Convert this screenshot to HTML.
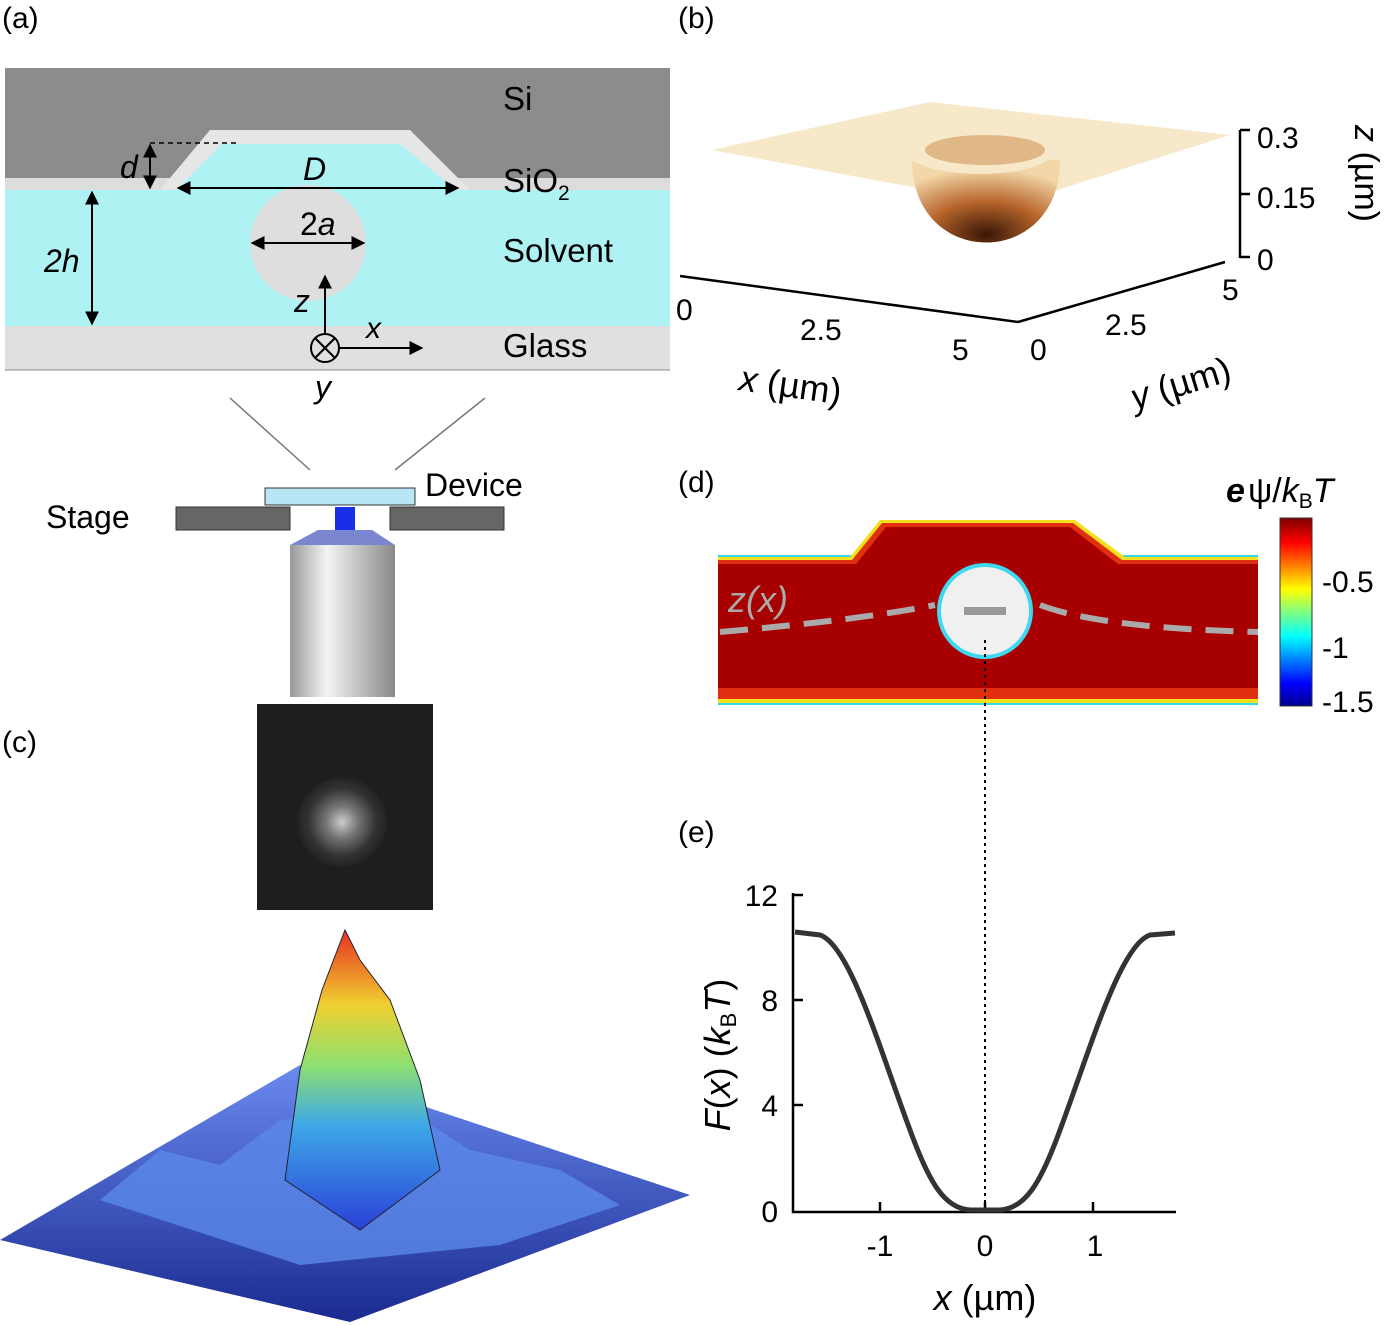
<!DOCTYPE html>
<html><head><meta charset="utf-8"><style>
body{margin:0;background:#fff}
svg{display:block;font-family:"Liberation Sans",Arial,sans-serif}
</style></head><body>
<svg width="1400" height="1326" viewBox="0 0 1400 1326" xmlns="http://www.w3.org/2000/svg">
<defs>
<marker id="ar" viewBox="0 0 10 10" refX="9" refY="5" markerWidth="7" markerHeight="7" orient="auto-start-reverse"><path d="M0,0 L10,5 L0,10 Z" fill="#000"/></marker>
<linearGradient id="cyl" x1="0" x2="1"><stop offset="0" stop-color="#999"/><stop offset="0.35" stop-color="#f4f4f4"/><stop offset="1" stop-color="#888"/></linearGradient>
<linearGradient id="jet" x1="0" y1="1" x2="0" y2="0"><stop offset="0" stop-color="#00008f"/><stop offset="0.12" stop-color="#0000ff"/><stop offset="0.37" stop-color="#00ffff"/><stop offset="0.5" stop-color="#80ff80"/><stop offset="0.62" stop-color="#ffff00"/><stop offset="0.87" stop-color="#ff0000"/><stop offset="1" stop-color="#800000"/></linearGradient>
<radialGradient id="bowl" cx="0.5" cy="0.9" r="0.8"><stop offset="0" stop-color="#3a1606"/><stop offset="0.5" stop-color="#b8662c"/><stop offset="1" stop-color="#f3d7a8"/></radialGradient>
<radialGradient id="spot" cx="0.5" cy="0.5" r="0.5"><stop offset="0" stop-color="#ccc"/><stop offset="0.35" stop-color="#777"/><stop offset="0.75" stop-color="#333"/><stop offset="1" stop-color="#222"/></radialGradient>
<linearGradient id="peak" x1="0" y1="1" x2="0" y2="0"><stop offset="0" stop-color="#2a40d8"/><stop offset="0.35" stop-color="#3ea8e8"/><stop offset="0.55" stop-color="#8ee070"/><stop offset="0.75" stop-color="#f0d030"/><stop offset="1" stop-color="#e83020"/></linearGradient>
<linearGradient id="base" x1="0" y1="0" x2="0" y2="1"><stop offset="0" stop-color="#6a8af0"/><stop offset="1" stop-color="#1a2a90"/></linearGradient>
</defs>

<!-- (a) -->
<text x="2" y="28" font-size="30">(a)</text>
<rect x="5" y="68" width="665" height="302" fill="#e0e0e0"/>
<rect x="5" y="68" width="665" height="110" fill="#8c8c8c"/>
<rect x="5" y="178" width="665" height="12" fill="#dcdcdc"/>
<rect x="5" y="190" width="665" height="136" fill="#aef2f4"/>
<path d="M160,190 L210,130 L410,130 L470,190 Z" fill="#e6e6e6"/>
<path d="M176,190 L222,144 L400,144 L456,190 Z" fill="#aef2f4"/>
<line x1="5" y1="370" x2="670" y2="370" stroke="#888"/>
<circle cx="308" cy="243" r="58" fill="#dedede"/>
<text x="503" y="110" font-size="33">Si</text>
<text x="503" y="192" font-size="33">SiO<tspan font-size="21" dy="8">2</tspan></text>
<text x="503" y="262" font-size="33">Solvent</text>
<text x="503" y="357" font-size="33">Glass</text>
<g stroke="#000" stroke-width="2" fill="none">
<line x1="178" y1="188" x2="458" y2="188" marker-start="url(#ar)" marker-end="url(#ar)"/>
<line x1="150" y1="145" x2="150" y2="188" marker-start="url(#ar)" marker-end="url(#ar)"/>
<line x1="150" y1="143" x2="240" y2="143" stroke-dasharray="5,4" stroke-width="1.5"/>
<line x1="92" y1="192" x2="92" y2="324" marker-start="url(#ar)" marker-end="url(#ar)"/>
<line x1="252" y1="243" x2="364" y2="243" marker-start="url(#ar)" marker-end="url(#ar)"/>
<line x1="325" y1="334" x2="325" y2="276" marker-end="url(#ar)"/>
<line x1="339" y1="348" x2="422" y2="348" marker-end="url(#ar)"/>
<circle cx="325" cy="348" r="14"/>
<line x1="315" y1="338" x2="335" y2="358"/><line x1="335" y1="338" x2="315" y2="358"/>
<line x1="230" y1="398" x2="310" y2="470" stroke="#777" stroke-width="1.5"/>
<line x1="485" y1="398" x2="395" y2="470" stroke="#777" stroke-width="1.5"/>
</g>
<text x="120" y="178" font-size="32" font-style="italic">d</text>
<text x="303" y="180" font-size="32" font-style="italic">D</text>
<text x="44" y="272" font-size="32" font-style="italic">2h</text>
<text x="300" y="235" font-size="32">2<tspan font-style="italic">a</tspan></text>
<text x="294" y="312" font-size="32" font-style="italic">z</text>
<text x="366" y="338" font-size="30" font-style="italic">x</text>
<text x="315" y="398" font-size="32" font-style="italic">y</text>

<!-- microscope -->
<rect x="265" y="488" width="150" height="17" fill="#b8e6f4" stroke="#333"/>
<rect x="176" y="507" width="114" height="23" fill="#666" stroke="#333"/>
<rect x="390" y="507" width="114" height="23" fill="#666" stroke="#333"/>
<rect x="335" y="507" width="20" height="26" fill="#1a2ee8"/>
<rect x="290" y="545" width="105" height="152" fill="url(#cyl)"/>
<path d="M290,545 L318,530 L372,530 L395,545 Z" fill="#7a86d0"/>
<text x="425" y="496" font-size="32">Device</text>
<text x="46" y="528" font-size="32">Stage</text>

<!-- (c) -->
<text x="2" y="752" font-size="30">(c)</text>
<rect x="257" y="704" width="176" height="206" fill="#1e1e1e"/>
<circle cx="342" cy="822" r="45" fill="url(#spot)"/>
<path d="M0,1240 L300,1065 L690,1195 L350,1322 Z" fill="url(#base)"/>
<path d="M100,1200 L160,1150 L220,1165 L280,1120 L400,1105 L470,1150 L560,1170 L620,1205 L500,1245 L300,1265 Z" fill="#5a88e8" opacity="0.8"/>
<path d="M285,1180 L300,1070 L322,990 L345,930 L360,960 L390,1000 L420,1080 L440,1170 L360,1230 Z" fill="url(#peak)" stroke="#223" stroke-width="1"/>

<!-- (b) -->
<text x="678" y="28" font-size="30">(b)</text>
<path d="M712,150 L930,102 L1230,135 L1010,205 Z" fill="#f6e8c8"/>
<path d="M912,160 C912,270 1060,270 1060,160 Z" fill="url(#bowl)"/>
<ellipse cx="980" cy="150" rx="75" ry="24" fill="#f6e8c8"/>
<ellipse cx="985" cy="150" rx="60" ry="15" fill="#e0b888"/>
<g stroke="#000" stroke-width="2.5" fill="none">
<line x1="680" y1="276" x2="1018" y2="322"/>
<line x1="1018" y1="322" x2="1225" y2="262"/>
<line x1="1240" y1="130" x2="1240" y2="258"/>
<line x1="1240" y1="130" x2="1250" y2="130"/><line x1="1240" y1="194" x2="1250" y2="194"/><line x1="1240" y1="257" x2="1250" y2="257"/>
</g>
<text x="1257" y="148" font-size="30">0.3</text>
<text x="1257" y="208" font-size="30">0.15</text>
<text x="1257" y="270" font-size="30">0</text>
<text transform="translate(1355,125) rotate(90)" font-size="34"><tspan font-style="italic">z</tspan> (µm)</text>
<text x="676" y="320" font-size="30">0</text>
<text x="800" y="340" font-size="30">2.5</text>
<text x="952" y="360" font-size="30">5</text>
<text transform="translate(738,390) rotate(8)" font-size="36"><tspan font-style="italic">x</tspan> (µm)</text>
<text x="1030" y="360" font-size="30">0</text>
<text x="1105" y="335" font-size="30">2.5</text>
<text x="1222" y="300" font-size="30">5</text>
<text transform="translate(1135,410) rotate(-17)" font-size="36"><tspan font-style="italic">y</tspan> (µm)</text>

<!-- (d) -->
<text x="678" y="492" font-size="30">(d)</text>
<rect x="718" y="555" width="540" height="150" fill="#38d8e8"/>
<path d="M718,557 L850,557 L880,520 L1075,520 L1125,557 L1258,557 L1258,703 L718,703 Z" fill="#f0e020"/>
<path d="M718,560 L852,560 L882,523 L1073,523 L1122,560 L1258,560 L1258,699 L718,699 Z" fill="#e03010"/>
<path d="M718,564 L856,564 L886,527 L1070,527 L1118,564 L1258,564 L1258,688 L718,688 Z" fill="#a80000"/>
<circle cx="985" cy="611" r="48" fill="#40d8f0"/>
<circle cx="985" cy="611" r="44" fill="#f0f0f0"/>
<rect x="964" y="607" width="42" height="8" fill="#999"/>
<path d="M720,632 Q860,620 935,605 M1040,605 Q1100,628 1258,632" stroke="#aaa" stroke-width="6" stroke-dasharray="28,14" fill="none"/>
<text x="728" y="612" font-size="36" fill="#aaa" font-style="italic">z(x)</text>
<rect x="1280" y="518" width="32" height="188" fill="url(#jet)" stroke="#333"/>
<text x="1226" y="502" font-size="34" font-style="italic" font-weight="bold">e</text>
<text x="1248" y="502" font-size="34">ψ/<tspan font-style="italic">k</tspan><tspan font-size="21" dy="6">B</tspan><tspan dy="-6" font-style="italic">T</tspan></text>
<text x="1322" y="592" font-size="30">-0.5</text>
<text x="1322" y="658" font-size="30">-1</text>
<text x="1322" y="712" font-size="30">-1.5</text>
<line x1="985" y1="640" x2="985" y2="1212" stroke="#000" stroke-width="2" stroke-dasharray="3,4"/>

<!-- (e) -->
<text x="678" y="842" font-size="30">(e)</text>
<g stroke="#000" stroke-width="2.5">
<line x1="793" y1="893" x2="793" y2="1213"/><line x1="792" y1="1212" x2="1176" y2="1212"/>
<line x1="793" y1="895" x2="803" y2="895"/><line x1="793" y1="1000" x2="803" y2="1000"/><line x1="793" y1="1105" x2="803" y2="1105"/>
<line x1="880" y1="1212" x2="880" y2="1202"/><line x1="985" y1="1212" x2="985" y2="1202"/><line x1="1093" y1="1212" x2="1093" y2="1202"/>
</g>
<g font-size="30" text-anchor="end"><text x="778" y="906">12</text><text x="778" y="1011">8</text><text x="778" y="1116">4</text><text x="778" y="1222">0</text></g>
<g font-size="30" text-anchor="middle"><text x="880" y="1256">-1</text><text x="985" y="1256">0</text><text x="1095" y="1256">1</text></g>
<text x="985" y="1310" font-size="36" text-anchor="middle"><tspan font-style="italic">x</tspan> (µm)</text>
<text transform="translate(730,1055) rotate(-90)" font-size="36" text-anchor="middle"><tspan font-style="italic">F</tspan>(<tspan font-style="italic">x</tspan>) (<tspan font-style="italic">k</tspan><tspan font-size="22" dy="6">B</tspan><tspan dy="-6" font-style="italic">T</tspan>)</text>
<path d="M795,932 L820,935 C850,945 880,1050 910,1130 C930,1185 945,1208 970,1210 L1000,1210 C1025,1208 1040,1185 1060,1130 C1090,1050 1120,945 1150,935 L1175,933" stroke="#333" stroke-width="5" fill="none"/>
</svg>
</body></html>
